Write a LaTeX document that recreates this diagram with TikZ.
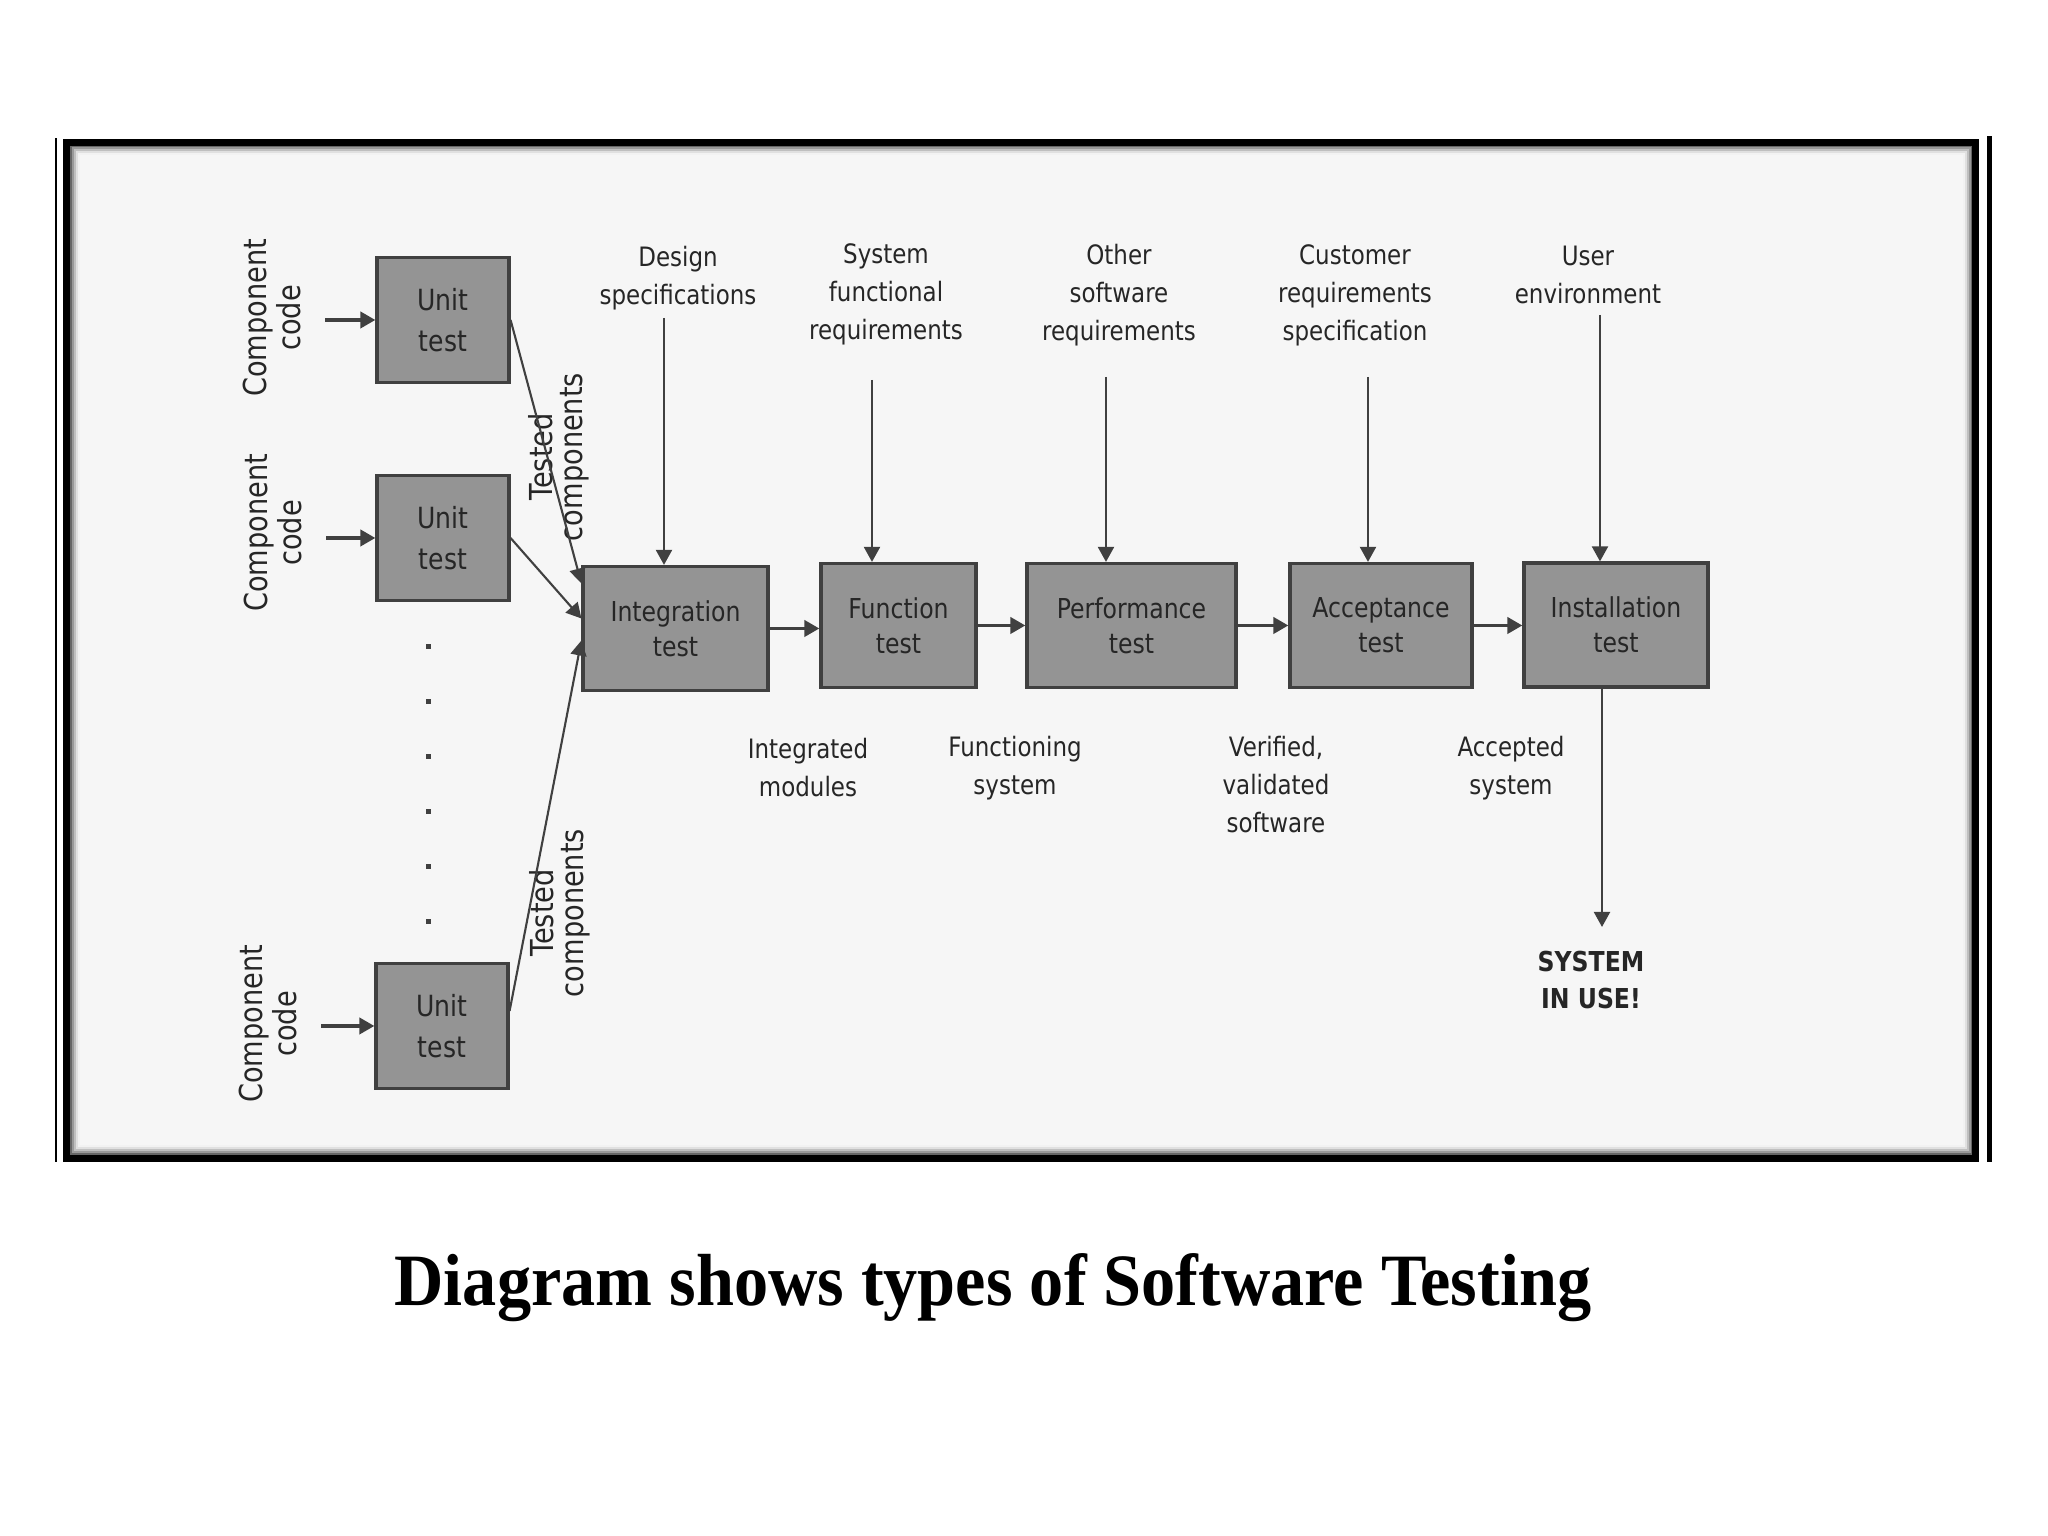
\documentclass[tikz,border=0pt]{standalone}
\usepackage{fontspec}
\usetikzlibrary{arrows.meta}

\newfontfamily\diagfont{DejaVu Sans}[FakeStretch=0.86]
\newfontfamily\titlefont{Liberation Serif}[FakeStretch=0.925]

\definecolor{inkgray}{gray}{0.25}
\definecolor{boxgray}{gray}{0.58}
\definecolor{paper}{gray}{0.965}

\tikzset{
    testbox/.style={draw=inkgray, line width=0.9pt, fill=boxgray, text=black!85,
        minimum height=1.24cm, align=center, font=\diagfont\fontsize{7.8}{10}\selectfont},
    unitbox/.style={testbox, minimum width=1.32cm, minimum height=1.25cm,
        font=\diagfont\fontsize{8.3}{11.5}\selectfont},
    lbl/.style={align=center, text=black!85, font=\diagfont\fontsize{7.6}{10.8}\selectfont},
    sidelbl/.style={lbl, rotate=90, font=\diagfont\fontsize{9}{8.6}\selectfont},
    arr/.style={draw=inkgray, line width=0.6pt, -{Triangle[length=0.15cm,width=0.16cm]}},
    flow/.style={arr, line width=1.1pt}
}

\begin{document}
\begin{tikzpicture}
        \useasboundingbox (0,0) rectangle (20.48,15.36);
        \fill[white] (0,0) rectangle (20.48,15.36);

        % Rahmen
        \fill[paper] (0.63,3.74) rectangle (19.79,13.97);
        \foreach \d/\c in {0.075/60,0.095/40,0.115/25,0.135/12,0.155/5}
            \draw[black!\c, line width=0.02cm] (0.63+\d,3.74+\d) rectangle (19.79-\d,13.97-\d);
        \draw[line width=0.07cm] (0.665,3.775) rectangle (19.755,13.935);
        \draw[line width=0.02cm] (0.56,3.74) -- (0.56,13.98);
        \draw[line width=0.05cm] (19.89,3.74) -- (19.89,14.00);

        % Tests
        \node[unitbox] (unit1) at (4.43,12.16) {Unit\\test};
        \node[unitbox] (unit2) at (4.43,9.98) {Unit\\test};
        \node[unitbox] (unit3) at (4.42,5.10) {Unit\\test};
        \node[testbox, minimum width=1.85cm] (integ) at (6.755,9.075) {Integration\\test};
        \node[testbox, minimum width=1.55cm] (func) at (8.985,9.105) {Function\\test};
        \node[testbox, minimum width=2.09cm] (perf) at (11.315,9.105) {Performance\\test};
        \node[testbox, minimum width=1.82cm] (accept) at (13.81,9.105) {Acceptance\\test};
        \node[testbox, minimum width=1.84cm] (install) at (16.16,9.11) {Installation\\test};

        % Eingaben
        \node[sidelbl] (code1) at (2.72,12.18) {Component\\code};
        \node[sidelbl] (code2) at (2.73,10.03) {Component\\code};
        \node[sidelbl] (code3) at (2.68,5.12) {Component\\code};
        \node[lbl] (design) at (6.78,12.58) {Design\\specifications};
        \node[lbl] (sysfun) at (8.86,12.42) {System\\functional\\requirements};
        \node[lbl] (othersw) at (11.19,12.41) {Other\\software\\requirements};
        \node[lbl] (custreq) at (13.55,12.41) {Customer\\requirements\\specification};
        \node[lbl] (userenv) at (15.88,12.61) {User\\environment};

        % Ergebnisse
        \node[sidelbl] (tested1) at (5.59,10.79) {Tested\\components};
        \node[sidelbl] (tested2) at (5.60,6.23) {Tested\\components};
        \node[lbl] (intmod) at (8.08,7.68) {Integrated\\modules};
        \node[lbl] (funcsys) at (10.15,7.68) {Functioning\\system};
        \node[lbl] (verval) at (12.76,7.51) {Verified,\\validated\\software};
        \node[lbl] (accsys) at (15.11,7.68) {Accepted\\system};
        \node[lbl, font=\diagfont\bfseries\fontsize{7.8}{10.5}\selectfont] (sysuse) at (15.91,5.56) {SYSTEM\\IN USE!};

        \coordinate (designOut) at (6.64,12.18);
        \coordinate (sysfunOut) at (8.72,11.56);
        \coordinate (otherOut) at (11.06,11.59);
        \coordinate (custOut) at (13.68,11.59);
        \coordinate (userOut) at (16.00,12.21);
        \coordinate (inUse) at (16.02,6.09);

        % Relationen
        \draw[flow, shorten <=0.12cm] (code1.south |- unit1) -- (unit1);
        \draw[flow, shorten <=0.12cm] (code2.south |- unit2) -- (unit2);
        \draw[flow, shorten <=0.12cm] (code3.south |- unit3) -- (unit3);
        \draw[arr] (unit1.east) -- ([yshift=0.45cm]integ.west);
        \draw[arr] (unit2.east) -- ([yshift=0.10cm]integ.west);
        \draw[arr] ([yshift=0.15cm]unit3.east) -- ([yshift=-0.12cm]integ.west);
        \foreach \i in {0,...,5}
            \fill[inkgray] (4.255,8.865-0.55*\i) rectangle ++(0.05,0.05);

        \draw[arr] (designOut) -- (designOut |- integ.north);
        \draw[arr] (sysfunOut) -- (sysfunOut |- func.north);
        \draw[arr] (otherOut) -- (otherOut |- perf.north);
        \draw[arr] (custOut) -- (custOut |- accept.north);
        \draw[arr] (userOut) -- (userOut |- install.north);

        \draw[flow] (integ.east) -- (integ.east -| func.west);
        \draw[flow] (func.east) -- (func.east -| perf.west);
        \draw[flow] (perf.east) -- (perf.east -| accept.west);
        \draw[flow] (accept.east) -- (accept.east -| install.west);
        \draw[arr] (install.south -| inUse) -- (inUse);

        % Titel
        \node[font=\titlefont\bfseries\fontsize{21}{25}\selectfont, anchor=base] (title) at (9.93,2.30) {Diagram shows types of Software Testing};
\end{tikzpicture}
\end{document}
